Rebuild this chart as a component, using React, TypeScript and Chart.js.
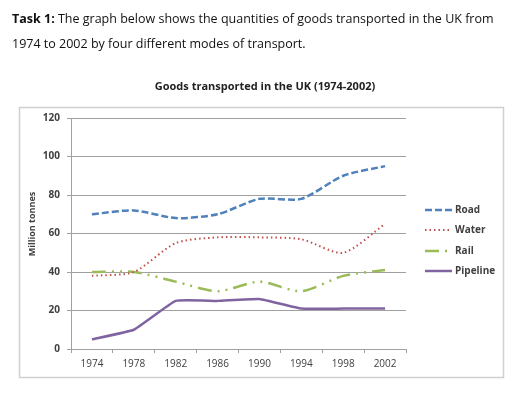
import React, { useEffect, useRef } from "react";
import { Chart, registerables } from "chart.js";

Chart.register(...registerables);

const years = ["1974", "1978", "1982", "1986", "1990", "1994", "1998", "2002"];
const road = [70, 72, 68, 70, 78, 78, 90, 95];
const water = [38, 40, 55, 58, 58, 57, 50, 65];
const rail = [40, 40, 35, 30, 35, 30, 38, 41];
const pipeline = [5, 10, 25, 25, 26, 21, 21, 21];
const seriesNames = ["Road", "Water", "Rail", "Pipeline"];
const yAxisTitle = "Million tonnes";

const FONT = "'Open Sans', 'Noto Sans', sans-serif";

const boxAndLegend = {
  id: "boxAndLegend",
  beforeDraw(chart: any) {
    const ctx = chart.ctx;
    ctx.save();
    ctx.strokeStyle = "#d0d0d0";
    ctx.lineWidth = 1.5;
    ctx.strokeRect(19.5, 107.5, 484, 270);
    ctx.restore();
  },
  afterDraw(chart: any) {
    const ctx = chart.ctx;
    ctx.save();
    // y axis title
    ctx.translate(32, 224);
    ctx.rotate(-Math.PI / 2);
    ctx.fillStyle = "#404040";
    ctx.font = `bold 9px ${FONT}`;
    ctx.textAlign = "center";
    ctx.textBaseline = "middle";
    ctx.fillText(yAxisTitle, 0, 0);
    ctx.restore();

    ctx.save();
    const x0 = 425;
    const ys = [210, 230, 251, 271];
    chart.data.datasets.forEach((ds: any, i: number) => {
      const y = ys[i];
      ctx.strokeStyle = ds.borderColor;
      ctx.lineWidth = ds.borderWidth;
      ctx.setLineDash(ds.borderDash || []);
      ctx.beginPath();
      ctx.moveTo(x0, y);
      ctx.lineTo(x0 + 27, y);
      ctx.stroke();
      ctx.setLineDash([]);
      ctx.fillStyle = "#404040";
      ctx.font = `bold 10px ${FONT}`;
      ctx.textBaseline = "middle";
      ctx.textAlign = "left";
      ctx.fillText(ds.label, x0 + 30, y);
    });
    ctx.restore();
  },
};

export default function App() {
  const ref = useRef<HTMLCanvasElement>(null);
  useEffect(() => {
    if (!ref.current) return;
    const chart = new Chart(ref.current, {
      type: "line",
      data: {
        labels: years,
        datasets: [
          { label: seriesNames[0], data: road, borderColor: "#4F81BD", borderWidth: 2.5, borderDash: [7, 3], tension: 0.25, pointRadius: 0, fill: false },
          { label: seriesNames[1], data: water, borderColor: "#C0504D", borderWidth: 2, borderDash: [1.5, 3], tension: 0.25, pointRadius: 0, fill: false },
          { label: seriesNames[2], data: rail, borderColor: "#9BBB59", borderWidth: 2.5, borderDash: [14, 6, 2, 6, 2, 6], tension: 0.25, pointRadius: 0, fill: false },
          { label: seriesNames[3], data: pipeline, borderColor: "#8064A2", borderWidth: 2.5, tension: 0.1, pointRadius: 0, fill: false },
        ],
      },
      options: {
        animation: false,
        responsive: false,
        maintainAspectRatio: false,
        layout: { padding: { top: 118, left: 26, right: 106, bottom: 16 } },
        plugins: {
          legend: { display: false },
          tooltip: { enabled: false },
          title: { display: false },
        },
        scales: {
          x: {
            type: "category",
            offset: true,
            grid: { offset: true, drawOnChartArea: false, drawTicks: true, tickLength: 4, color: "#a0a0a0" },
            border: { color: "#a0a0a0" },
            ticks: { color: "#404040", font: { family: FONT, size: 10 }, padding: 5, maxRotation: 0 },
            afterFit: (s: any) => { s.height = 30; },
          },
          y: {
            min: 0,
            max: 120,
            ticks: { stepSize: 20, color: "#404040", font: { family: FONT, size: 10, weight: "bold" }, padding: 7 },
            grid: { color: "#a0a0a0", tickLength: 4 },
            border: { color: "#a0a0a0" },
            title: { display: false },
            afterFit: (s: any) => { s.width = 45; },
          },
        },
      },
      plugins: [boxAndLegend],
    });
    return () => chart.destroy();
  }, []);

  return (
    <div style={{ position: "absolute", left: 0, top: 0, width: 512, height: 395, background: "#fff", overflow: "hidden" }}>
      <canvas ref={ref} width={512} height={395} style={{ position: "absolute", left: 0, top: 0 }} />
      <div style={{ position: "absolute", left: 12, top: 6, width: 500, fontFamily: FONT, fontSize: 12.5, lineHeight: "25px", color: "#111", whiteSpace: "nowrap" }}>
        <b>Task 1:</b> The graph below shows the quantities of goods transported in the UK from
        <br />1974 to 2002 by four different modes of transport.
      </div>
      <div style={{ position: "absolute", left: 0, top: 78, width: 530, textAlign: "center", fontFamily: FONT, fontSize: 11, fontWeight: "bold", color: "#222" }}>
        Goods transported in the UK (1974-2002)
      </div>
    </div>
  );
}
